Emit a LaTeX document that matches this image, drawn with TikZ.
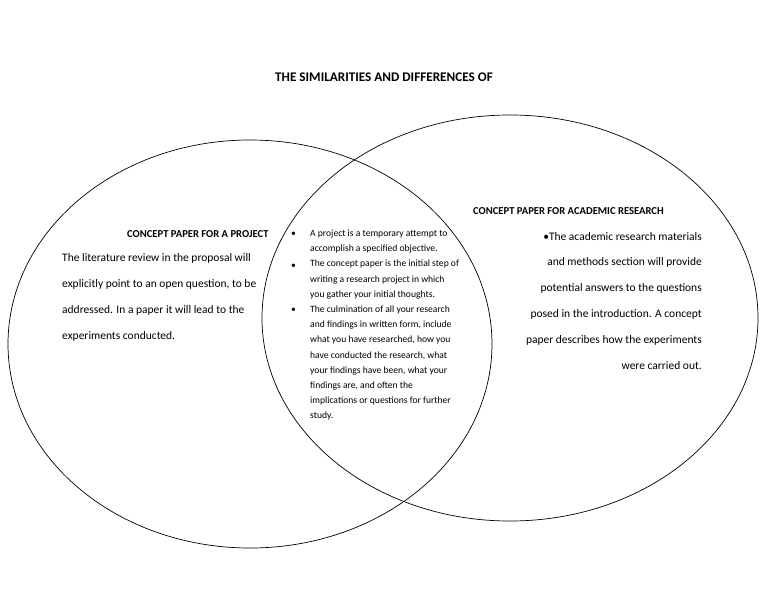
\documentclass[tikz,border=0pt]{standalone}
\usepackage{fontspec}
\setmainfont{Carlito}
\begin{document}
\begin{tikzpicture}[x=1pt,y=-1pt,
  circ/.style={draw=black,line width=0.7pt},
  ttl/.style={font=\bfseries\fontsize{13.2}{15}\selectfont},
  hd/.style={font=\bfseries\fontsize{10.6}{12}\selectfont,anchor=west,inner sep=0},
  side/.style={font=\fontsize{11.5}{13}\selectfont,inner sep=0},
  mid/.style={font=\fontsize{9.6}{11}\selectfont,anchor=west,inner sep=0}]
\useasboundingbox (0,0) rectangle (768,594);
\draw[circ] (250,344) ellipse [x radius=242, y radius=204];
\draw[circ] (510,318) ellipse [x radius=248, y radius=203];
\node[ttl] (t) at (384,77) {THE SIMILARITIES AND DIFFERENCES OF};
\node[hd] (lh) at (127,234) {CONCEPT PAPER FOR A PROJECT};
\node[hd] (rh) at (473,211) {CONCEPT PAPER FOR ACADEMIC RESEARCH};
\foreach \t [count=\i] in {The literature review in the proposal will,explicitly point to an open question{,} to be,addressed.  In a paper it will lead to the,experiments conducted.}
  \node[side,anchor=west] (l\i) at (62,258+26*\i-26) {\t};
\foreach \t [count=\i] in {•The academic research materials,and methods section will provide,potential answers to the questions,posed in the introduction.  A concept,paper describes  how the experiments,were carried out.}
  \node[side,anchor=east] (r\i) at (702,237+25.8*\i-25.8) {\t};
\foreach \y in {234,266,310}
  \node[mid] at (291,\y) {•};
\foreach \t [count=\i] in {A project is a temporary  attempt to,accomplish a specified objective.,The concept paper is the initial step of,writing  a research project in which,you gather your initial thoughts.,The culmination  of  all your research,and findings in written form{,} include,what you have researched{,} how you,have conducted the research{,} what,your findings have been{,} what your,findings are{,} and often the,implications or questions for further,study.}
  \node[mid] (m\i) at (310,234+15.2*\i-15.2) {\t};
\end{tikzpicture}
\end{document}
